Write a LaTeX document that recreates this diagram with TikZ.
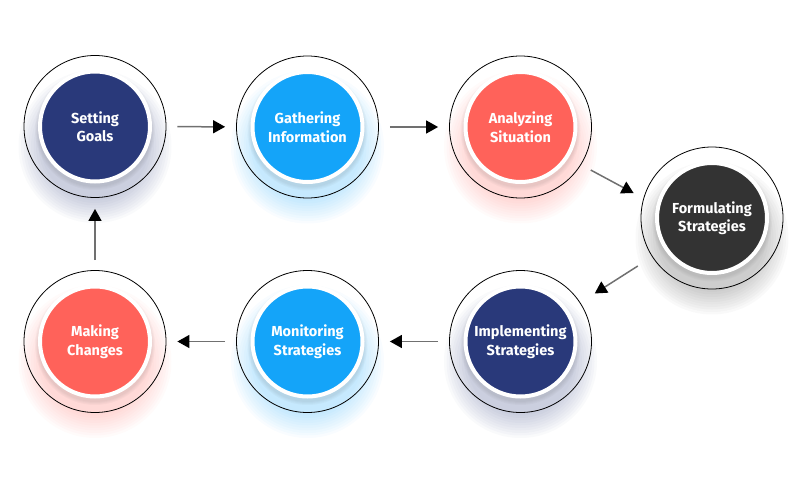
\documentclass[tikz,border=0pt]{standalone}
\usepackage{fontspec}
\setmainfont{Fira Sans}
\usetikzlibrary{arrows.meta}
\definecolor{navy}{HTML}{29397A}
\definecolor{sky}{HTML}{14A4F9}
\definecolor{coral}{HTML}{FF625A}
\definecolor{charcoal}{HTML}{333333}
\definecolor{linegray}{HTML}{707070}

\begin{document}
\begin{tikzpicture}[x=10pt,y=10pt,
  ring/.style={circle, draw=black, line width=0.8pt, minimum size=142pt, inner sep=0pt},
  disc/.style={circle, fill=#1, draw=white, line width=4pt, minimum size=110pt, inner sep=0pt,
    text=white, align=center, font=\bfseries\fontsize{14.5}{18.5}\selectfont},
  flow/.style={draw=linegray, line width=1.5pt, -{Triangle[length=12pt,width=13pt,color=black]},
    shorten <=11pt, shorten >=11pt}]
  \useasboundingbox (0,0) rectangle (80,-50);
  % soft glow under each step
  \foreach \cx/\cy/\col in {9.5/-12.65/navy, 30.75/-12.7/sky, 52.05/-12.7/coral, 71.2/-21.8/charcoal,
      52.05/-34.15/navy, 30.75/-34.15/sky, 9.5/-34.15/coral}{
    \foreach \k in {0,...,9}
      \fill[\col, opacity=0.028] (\cx,\cy-2) circle ({5.4+0.25*\k});
    \foreach \k in {0,...,3}
      \fill[black, opacity=0.025] (\cx,\cy-0.35) circle ({5.7+0.1*\k});
  }
  % outer rings
  \node[ring] (goalsring) at (9.5,-12.65) {};
  \node[ring] (gatherring) at (30.75,-12.7) {};
  \node[ring] (analyzering) at (52.05,-12.7) {};
  \node[ring] (formulatering) at (71.2,-21.8) {};
  \node[ring] (implementring) at (52.05,-34.15) {};
  \node[ring] (monitorring) at (30.75,-34.15) {};
  \node[ring] (changesring) at (9.5,-34.15) {};
  % coloured steps
  \node[disc=navy] (goals) at (goalsring) {Setting\\Goals};
  \node[disc=sky] (gather) at (gatherring) {Gathering\\Information};
  \node[disc=coral] (analyze) at (analyzering) {Analyzing\\Situation};
  \node[disc=charcoal] (formulate) at (formulatering) {Formulating\\Strategies};
  \node[disc=navy] (implement) at (implementring) {Implementing\\Strategies};
  \node[disc=sky] (monitor) at (monitorring) {Monitoring\\Strategies};
  \node[disc=coral] (changes) at (changesring) {Making\\Changes};
  % arrows
  \draw[flow] (goalsring) -- (gatherring);
  \draw[flow] (gatherring) -- (analyzering);
  \draw[flow] (analyzering.-32) -- (formulatering.164);
  \draw[flow, shorten <=17pt, shorten >=17pt] (formulatering.213) -- (implementring.33.5);
  \draw[flow] (implementring) -- (monitorring);
  \draw[flow] (monitorring) -- (changesring);
  \draw[flow, shorten <=10pt] (changesring) -- (goalsring);
\end{tikzpicture}
\end{document}
